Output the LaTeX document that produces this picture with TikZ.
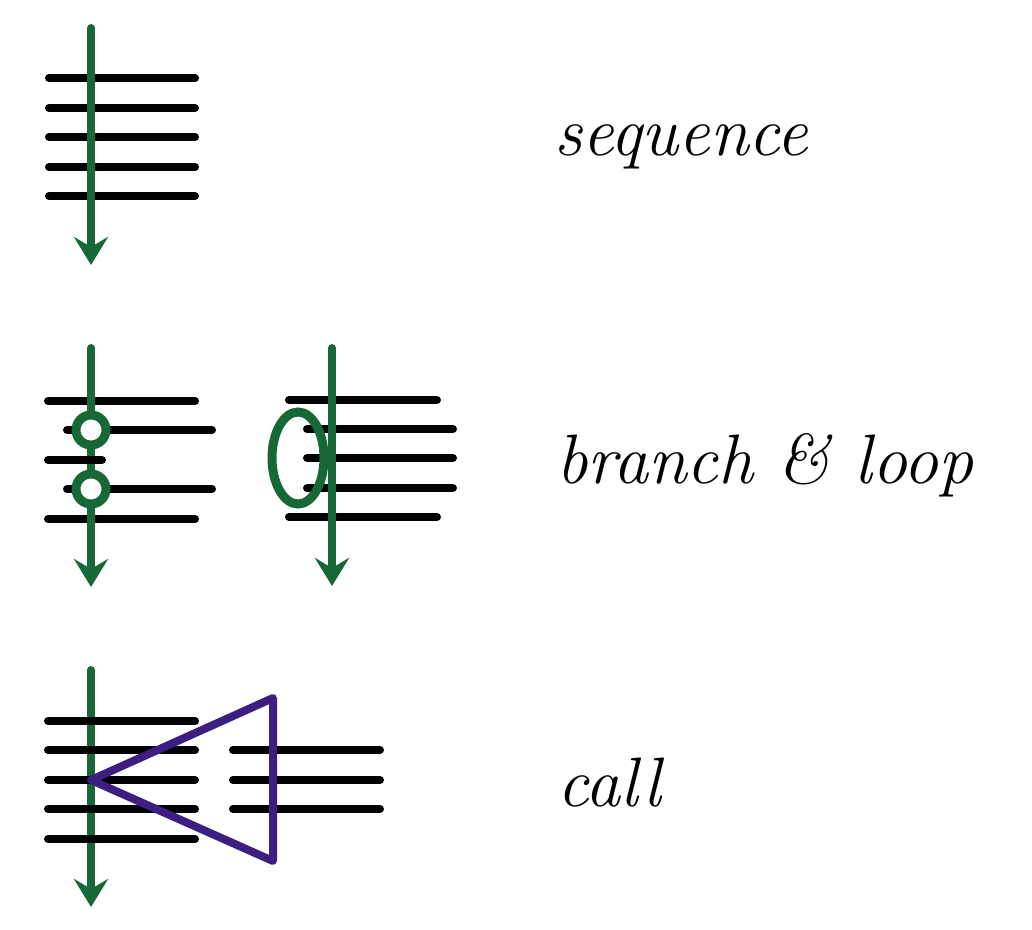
\documentclass[tikz,border=0pt]{standalone}
\usetikzlibrary{arrows.meta}
\definecolor{flowgreen}{RGB}{22,104,54}
\definecolor{callpurple}{RGB}{58,30,128}
\tikzset{
    staff/.style={line width=4pt, line cap=round, black},
    flow/.style={line width=4pt, line cap=round, flowgreen,
        -{Stealth[length=14pt, width=17pt, inset=5pt]}},
    knot/.style={draw, line width=4.5pt, flowgreen, fill=white},
    label/.style={anchor=base west, inner sep=0pt, font=\fontsize{35}{40}\selectfont\itshape}
}
\begin{document}
\begin{tikzpicture}[x=0.5pt, y=-0.5pt]
    \useasboundingbox (0, 0) rectangle (1032, 930);
    % sequence
    \foreach \y in {78, 108, 137, 167, 196}
        \draw[staff] (49, \y) -- (195, \y);
    \coordinate (s1) at (91, 28);
    \coordinate (s2) at (91, 265);
    \draw[flow] (s1) -- (s2);
    \node[label] (seq) at (554, 156) {sequence};
    % branch
    \foreach \y in {401, 519}
        \draw[staff] (48, \y) -- (195, \y);
    \foreach \y in {430, 489}
        \draw[staff] (67, \y) -- (212, \y);
    \coordinate (b1) at (91, 348);
    \coordinate (b2) at (91, 587);
    \draw[flow] (b1) -- (b2);
    \draw[staff] (48, 460) -- (102, 460);
    \node[knot, circle, minimum size=15pt, inner sep=0pt] (c1) at (91, 430) {};
    \node[knot, circle, minimum size=15pt, inner sep=0pt] (c2) at (91, 489) {};
    % loop
    \draw[staff] (289, 400) -- (437, 400);
    \draw[staff] (289, 517) -- (437, 517);
    \foreach \y in {429, 458, 488}
        \draw[staff] (307, \y) -- (453, \y);
    \coordinate (l1) at (332, 348);
    \coordinate (l2) at (332, 586);
    \draw[flow] (l1) -- (l2);
    \draw[knot, fill=none] (298, 458) ellipse [x radius=26, y radius=46];
    \node[label] (bl) at (556, 483) {branch \& loop};
    % call
    \coordinate (k1) at (91, 670);
    \coordinate (k2) at (91, 907);
    \draw[flow] (k1) -- (k2);
    \foreach \y in {721, 750, 780, 809, 839}
        \draw[staff] (48, \y) -- (195, \y);
    \foreach \y in {750, 780, 809}
        \draw[staff] (233, \y) -- (380, \y);
    \coordinate (t1) at (91, 780);
    \coordinate (t2) at (273, 698);
    \coordinate (t3) at (273, 861);
    \draw[line width=4pt, line join=round, callpurple] (t1) -- (t2) -- (t3) -- cycle;
    \node[label] (call) at (557, 806) {call};
\end{tikzpicture}
\end{document}
